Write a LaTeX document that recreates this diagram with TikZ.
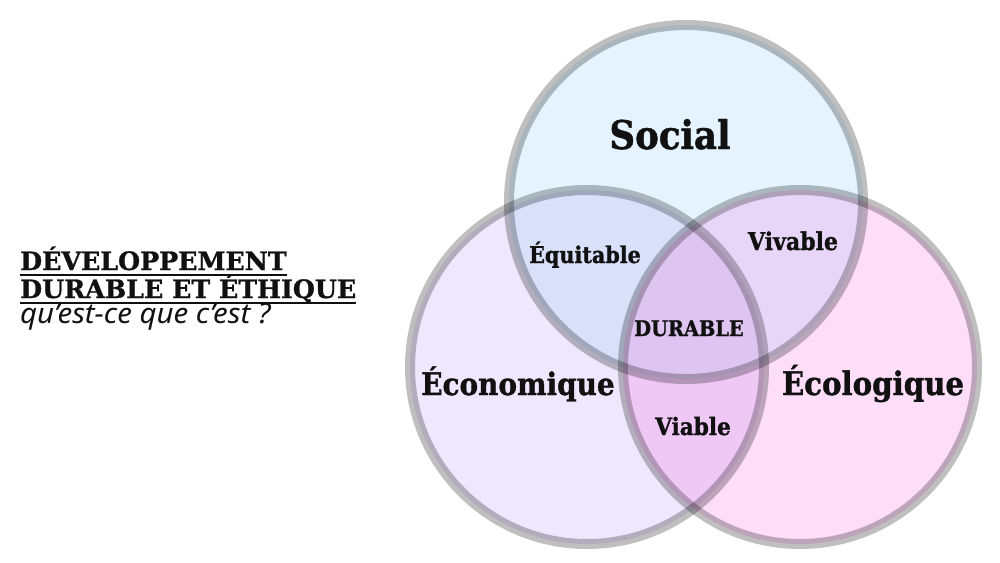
\documentclass[tikz,border=0pt]{standalone}
\usepackage{fontspec}
\newfontfamily\slab[FakeStretch=0.9,BoldFeatures={FakeBold=1.2}]{DejaVu Serif}
\newfontfamily\slabwide[BoldFeatures={FakeBold=1}]{DejaVu Serif}
\newfontfamily\itsans[FakeStretch=1.05]{Noto Sans}
\usetikzlibrary{calc}
\definecolor{fS}{RGB}{228,243,254}
\definecolor{fE}{RGB}{238,231,253}
\definecolor{fP}{RGB}{253,221,247}
\definecolor{fSE}{RGB}{216,224,250}
\definecolor{fSP}{RGB}{232,214,248}
\definecolor{fEP}{RGB}{239,200,245}
\definecolor{fSEP}{RGB}{222,197,241}
\definecolor{ink}{RGB}{17,17,17}
\tikzset{
  ring/.style={draw=black, draw opacity=0.25, line width=10pt},
  lbl/.style={inner sep=0pt, anchor=base, text=ink},
  ttl/.style={inner sep=0pt, anchor=base west, text=ink},
}
\begin{document}
\begin{tikzpicture}[x=1pt,y=-1pt]
\useasboundingbox (0,0) rectangle (1000,562);
\fill[white] (0,0) rectangle (1000,562);
\def\R{177}
\coordinate (cS) at (686,202);
\coordinate (cE) at (587,367);
\coordinate (cP) at (800,367);
% base fills
\fill[fE] (cE) circle (\R);
\fill[fP] (cP) circle (\R);
\fill[fS] (cS) circle (\R);
% pairwise intersections
\begin{scope}\clip (cS) circle (\R); \fill[fSE] (cE) circle (\R); \end{scope}
\begin{scope}\clip (cS) circle (\R); \fill[fSP] (cP) circle (\R); \end{scope}
\begin{scope}\clip (cE) circle (\R); \fill[fEP] (cP) circle (\R); \end{scope}
\begin{scope}\clip (cS) circle (\R); \clip (cE) circle (\R); \fill[fSEP] (cP) circle (\R); \end{scope}
% rings
\draw[ring] (cS) circle (\R);
\draw[ring] (cE) circle (\R);
\draw[ring] (cP) circle (\R);
% labels
\node[lbl, font=\slab\bfseries\fontsize{39.5}{39.5}\selectfont] (social) at (670,149) {Social};
\node[lbl, font=\slab\bfseries\fontsize{31}{31}\selectfont] (eco) at (518,395) {Économique};
\node[lbl, font=\slab\bfseries\fontsize{32.5}{32.5}\selectfont] (ecol) at (873,395) {Écologique};
\node[lbl, font=\slab\bfseries\fontsize{23}{23}\selectfont] (equi) at (585,263) {Équitable};
\node[lbl, font=\slab\bfseries\fontsize{24.5}{24.5}\selectfont] (viva) at (793,250) {Vivable};
\node[lbl, font=\slab\bfseries\fontsize{21.5}{21.5}\selectfont] (dura) at (689,336) {DURABLE};
\node[lbl, font=\slab\bfseries\fontsize{24}{24}\selectfont] (viab) at (693,435) {Viable};
% title
\node[ttl, font=\slabwide\bfseries\fontsize{25.3}{25.3}\selectfont] (t1) at (20,270) {DÉVELOPPEMENT};
\node[ttl, font=\slabwide\bfseries\fontsize{25.3}{25.3}\selectfont] (t2) at (20,298) {DURABLE ET ÉTHIQUE};
\node[ttl, font=\itsans\itshape\fontsize{28}{28}\selectfont] (t3) at (20,323) {qu’est-ce que c’est ?};
\draw[ink, line width=2pt] ($(t1.base west)+(0,5)$) -- ($(t1.base east)+(0,5)$);
\draw[ink, line width=2pt] ($(t2.base west)+(0,5)$) -- ($(t2.base east)+(0,5)$);
\end{tikzpicture}
\end{document}
